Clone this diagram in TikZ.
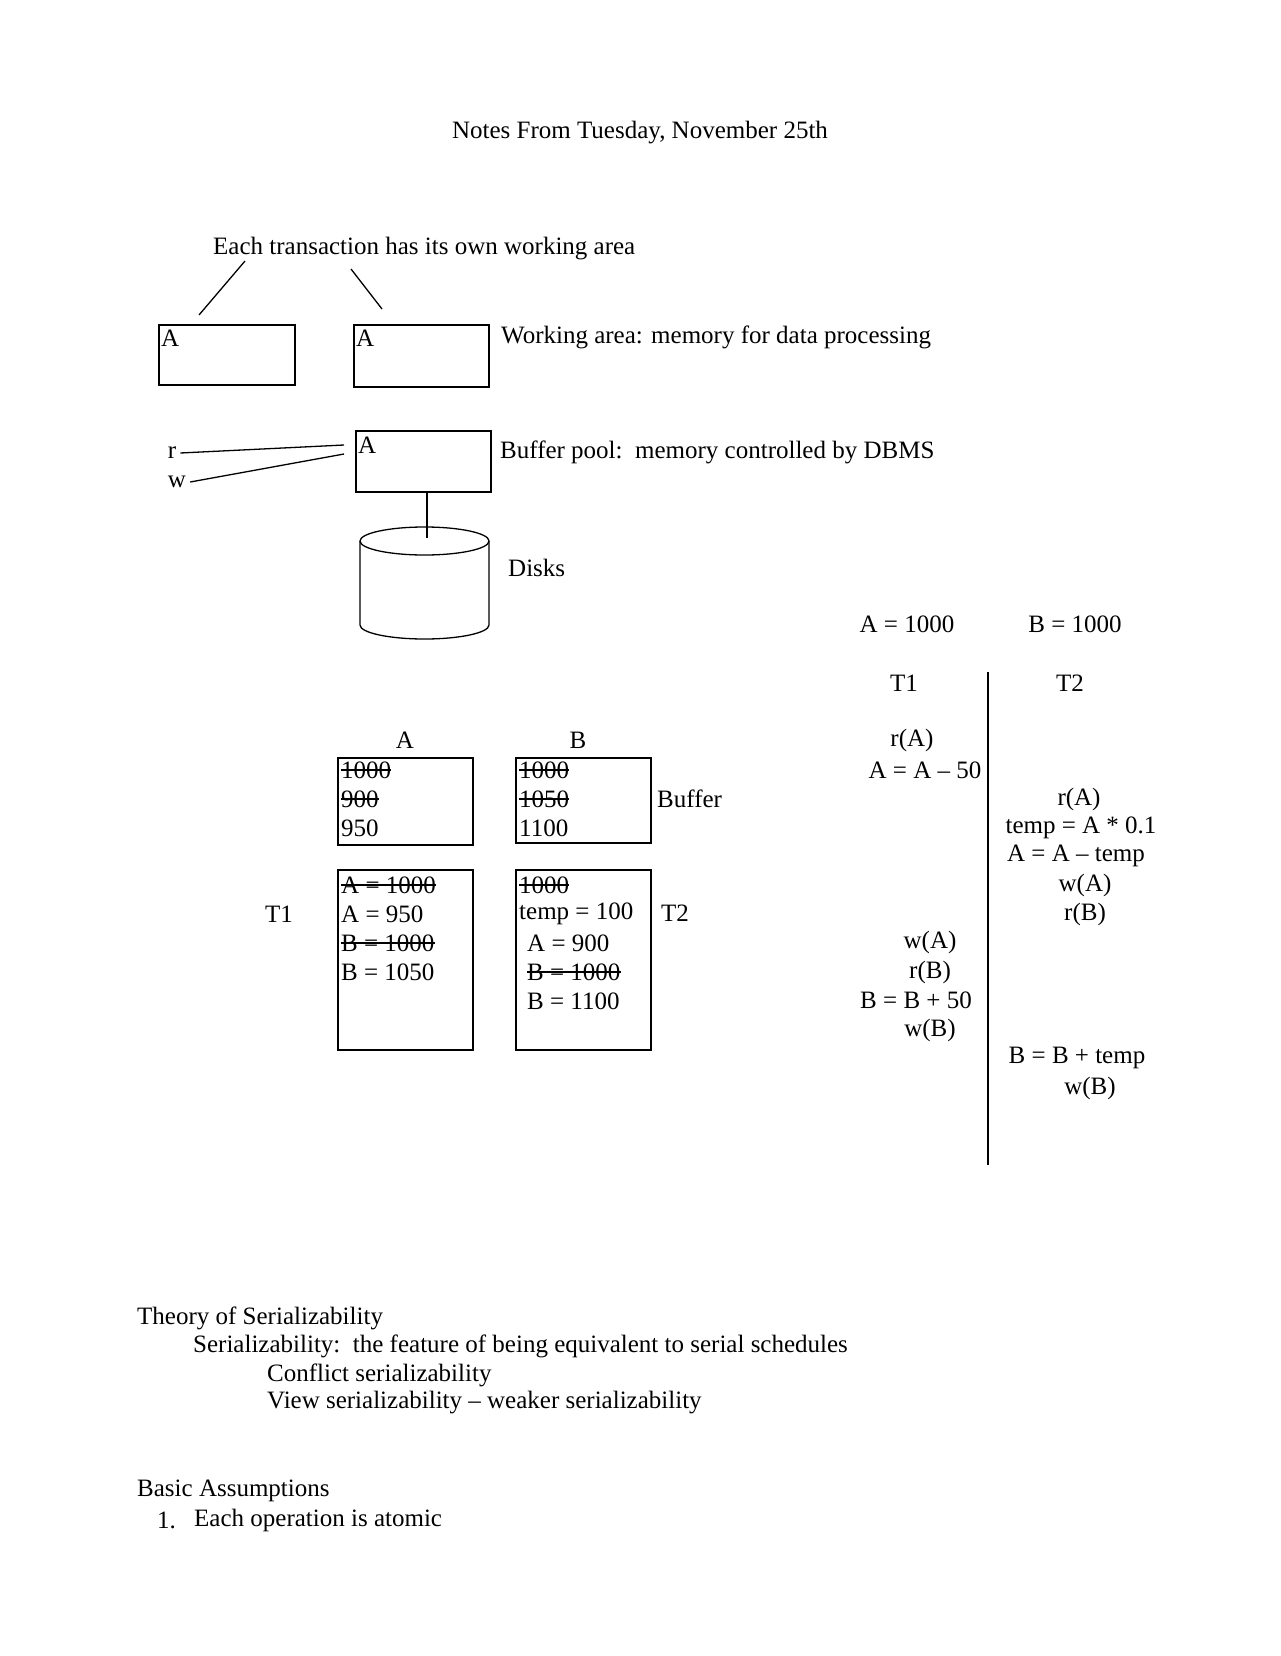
\documentclass[tikz,border=0pt]{standalone}
\usepackage{fontspec}
\setmainfont{Liberation Serif}
\usetikzlibrary{shapes.geometric}
\begin{document}
\begin{tikzpicture}[
  x=1pt, y=-1pt,
  every node/.style={font=\fontsize{25}{29}\selectfont, inner sep=0pt},
  txt/.style={anchor=west},
  box/.style={draw, line width=1.3pt},
  ln/.style={line width=1.3pt},
  strike/.style={txt, append after command={(\tikzlastnode.west) edge[ln] (\tikzlastnode.east)}}
]
\useasboundingbox (0,0) rectangle (1280,1656);
\node (title) at (640,133) {Notes From Tuesday, November 25th};
% working areas
\node[txt] (own) at (213,249) {Each transaction has its own working area};
\coordinate (o1) at (245,261); \coordinate (o2) at (351,269);
\draw[box] (159,325) rectangle (295,385);
\draw[box] (354,325) rectangle (489,387);
\node[anchor=north west] (wa1) at (161,330) {A};
\node[anchor=north west] (wa2) at (356,330) {A};
\draw[ln] (o1) -- (199,315);
\draw[ln] (o2) -- (382,309);
\node[txt] (walbl) at (501,337) {Working area: memory for data processing};
% buffer pool
\draw[box] (356,431) rectangle (491,492);
\node[anchor=north west] (bp) at (358,437) {A};
\node[txt] (bplbl) at (500,452) {Buffer pool:\ \ memory controlled by DBMS};
\node (r) at (172,453) {r};
\node (w) at (177,482) {w};
\draw[ln] (r.east) ++(4,0) -- (344,445);
\draw[ln] (w.east) ++(4,0) -- (344,454);
\draw[ln] (427,492) -- (427,538);
% disk
\draw[ln] (360,541) -- (360,625) arc[start angle=180, end angle=0, x radius=64.5, y radius=14] -- (489,541);
\draw[ln] (424.5,541) ellipse[x radius=64.5, y radius=14];
\node[txt] (disks) at (508,568) {Disks};
% buffers and working areas
\node (colA) at (405,740) {A};
\node (colB) at (578,740) {B};
\draw[box] (338,758) rectangle (473,845);
\draw[box] (516,758) rectangle (651,843);
\draw[box] (338,870) rectangle (473,1050);
\draw[box] (516,870) rectangle (651,1050);
\node[strike] at (341,770) {1000};
\node[strike] at (341,799) {900};
\node[txt] at (341,828) {950};
\node[strike] at (519,770) {1000};
\node[strike] at (519,799) {1050};
\node[txt] at (519,828) {1100};
\node[txt] (buf) at (657,799) {Buffer};
\node[strike] at (341,885) {A = 1000};
\node[txt] at (341,914) {A = 950};
\node[strike] at (341,943) {B = 1000};
\node[txt] at (341,972) {B = 1050};
\node[strike] at (519,885) {1000};
\node[txt] at (519,914) {temp = 100};
\node[txt] at (527,943) {A = 900};
\node[strike] at (527,972) {B = 1000\hspace{14pt}};
\node[txt] at (527,1001) {B = 1100};
\node (t1w) at (279,914) {T1};
\node (t2w) at (675,913) {T2};
% schedule
\node (a0) at (907,624) {A = 1000};
\node (b0) at (1075,624) {B = 1000};
\node (t1) at (904,683) {T1};
\node (t2) at (1070,683) {T2};
\draw[line width=1.6pt] (988,672) -- (988,1165);
\node at (912,740) {r(A)};
\node at (925,770) {A = A -- 50};
\node at (930,942) {w(A)};
\node at (930,972) {r(B)};
\node at (916,1000) {B = B + 50};
\node at (930,1030) {w(B)};
\node at (1079,799) {r(A)};
\node at (1081,828) {temp = A * 0.1};
\node at (1076,856) {A = A -- temp};
\node at (1085,885) {w(A)};
\node at (1085,914) {r(B)};
\node at (1077,1058) {B = B + temp};
\node at (1090,1088) {w(B)};
% notes
\node[txt] at (137,1318) {Theory of Serializability};
\node[txt] at (193,1346) {Serializability:\ \ the feature of being equivalent to serial schedules};
\node[txt] at (267,1375) {Conflict serializability};
\node[txt] at (267,1403) {View serializability -- weaker serializability};
\node[txt] at (137,1491) {Basic Assumptions};
\node[txt] at (157,1520) {1.};
\node[txt] at (194,1520) {Each operation is atomic};
\end{tikzpicture}
\end{document}
